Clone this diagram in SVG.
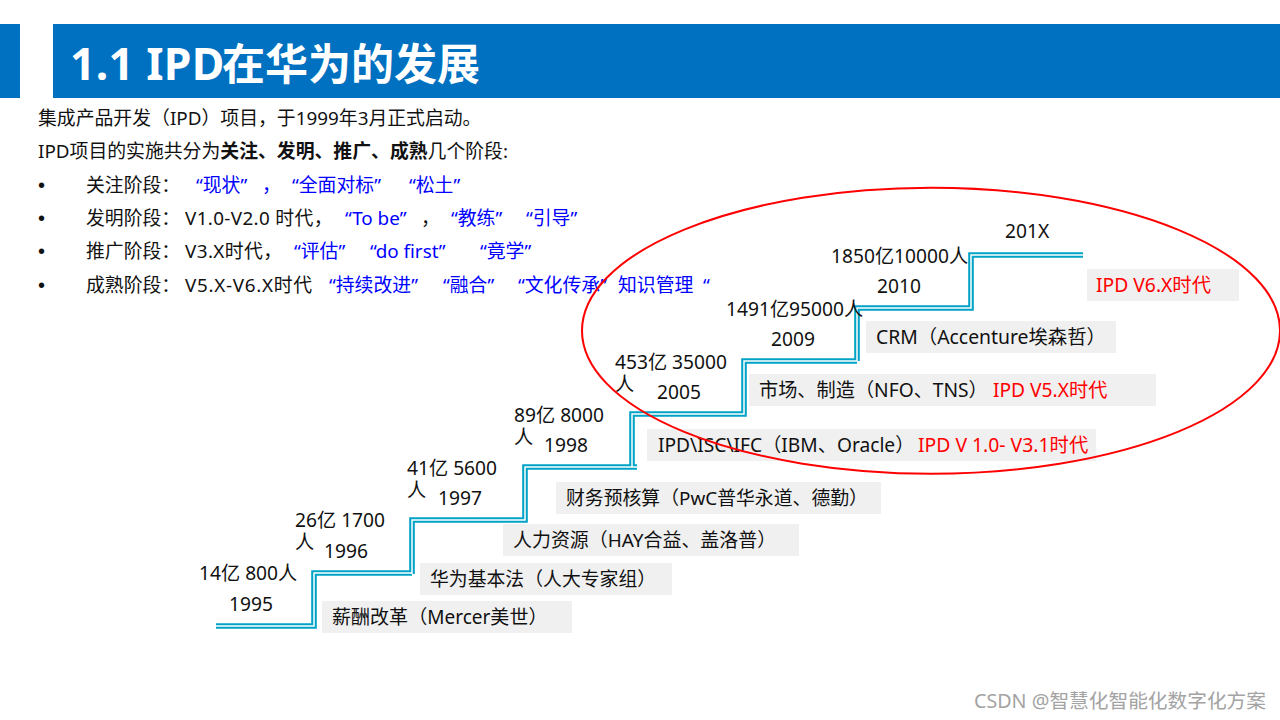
<svg xmlns="http://www.w3.org/2000/svg" width="1280" height="720" viewBox="0 0 1280 720">
<style>
text{font-family:"Noto Sans","Noto Sans CJK SC",sans-serif;font-size:18.85px;fill:#111}
.b{fill:#0000ff}.r{fill:#ff0000}.s{font-weight:700}
.n{font-size:19.2px}
.bul{font-family:"Liberation Sans",sans-serif;font-size:20px}
.box{fill:#f0f0f0}
.o{fill:none;stroke:#00a3c6;stroke-width:5.6}
.i{fill:none;stroke:#fff;stroke-width:1.5}
.title{font-size:43px;font-weight:700;fill:#fff}
.wm{font-size:19.7px;fill:#a3a3a3}
</style>
<rect width="1280" height="720" fill="#fff"/>
<g id="header">
<rect x="0" y="24" width="20" height="74" fill="#0070c0"/>
<rect x="53" y="24" width="1227" height="74" fill="#0070c0"/>
<text class="title" x="70" y="80"><tspan style="font-size:44.5px;letter-spacing:0.3px">1.1 IPD</tspan><tspan x="222">在华为的发展</tspan></text>
</g>
<g id="intro">
<text x="38" y="125">集成产品开发（IPD）项目，于1999年3月正式启动。</text>
<text x="38" y="158">IPD项目的实施共分为<tspan class="s">关注、发明、推广、成熟</tspan>几个阶段:</text>
<text class="bul" x="38" y="192">•</text><text x="86" y="192">关注阶段：</text>
<text class="b" x="196" y="192">“现状”</text><text class="b" x="262" y="192">，</text><text class="b" x="292" y="192">“全面对标”</text><text class="b" x="409" y="192">“松土”</text>
<text class="bul" x="38" y="225">•</text><text x="86" y="225">发明阶段：</text><text x="185" y="225" style="letter-spacing:0.35px">V1.0-V2.0 时代，</text>
<text class="b" x="345" y="225">“To be”</text><text x="421" y="225">，</text><text class="b" x="451" y="225">“教练”</text><text class="b" x="526" y="225">“引导”</text>
<text class="bul" x="38" y="258">•</text><text x="86" y="258">推广阶段：</text><text x="185" y="258" style="letter-spacing:0.4px">V3.X时代，</text>
<text class="b" x="294" y="258">“评估”</text><text class="b" x="370" y="258">“do first”</text><text class="b" x="480" y="258">“竟学”</text>
<text class="bul" x="38" y="292">•</text><text x="86" y="292">成熟阶段：</text><text x="185" y="292" style="letter-spacing:0.7px">V5.X-V6.X时代</text>
<text class="b" x="329" y="292">“持续改进”</text><text class="b" x="443" y="292">“融合”</text><text class="b" x="518" y="292">“文化传承”</text><text class="b" x="618" y="292">知识管理</text><text class="b" x="703" y="292">“</text>
</g>
<g id="connectors">
<path class="o" d="M216 626H314V573H412"/><path class="o" d="M412 574V520H525V467H637"/><path class="o" d="M632 467V414H744V361H857"/><path class="o" d="M857 361V308H971V255H1083"/>
<path class="i" d="M216 626H314V573H412"/><path class="i" d="M412 574V520H525V467H637"/><path class="i" d="M632 467V414H744V361H857"/><path class="i" d="M857 361V308H971V255H1083"/>
</g>
<g id="n1995"><rect class="box" x="322" y="601" width="250" height="32"/><text x="332" y="624" style="font-size:19.05px">薪酬改革（Mercer美世）</text><text class="n" x="199" y="580">14亿 800人</text><text class="n" x="229" y="611">1995</text></g>
<g id="n1996"><rect class="box" x="420" y="563" width="252" height="32"/><text x="430" y="586">华为基本法（人大专家组）</text><text class="n" x="295" y="527">26亿 1700</text><text class="n" x="295" y="549">人</text><text class="n" x="324" y="558">1996</text></g>
<g id="n1997"><rect class="box" x="503" y="524" width="296" height="32"/><text x="513" y="547" style="font-size:18.97px">人力资源（HAY合益、盖洛普）</text><text class="n" x="407" y="475">41亿 5600</text><text class="n" x="407" y="497">人</text><text class="n" x="438" y="505">1997</text></g>
<g id="n1998"><rect class="box" x="556" y="482" width="325" height="32"/><text x="566" y="505">财务预核算（PwC普华永道、德勤）</text><text class="n" x="514" y="422">89亿 8000</text><text class="n" x="514" y="444">人</text><text class="n" x="544" y="452">1998</text></g>
<g id="n2005"><rect class="box" x="647" y="429" width="449" height="32"/><text class="n" x="658" y="452">IPD\ISC\IFC（IBM、Oracle）</text><text class="r" x="918" y="452" style="font-size:19.35px">IPD V 1.0- V3.1时代</text><text class="n" x="615" y="369">453亿 35000</text><text class="n" x="615" y="391">人</text><text class="n" x="657" y="399">2005</text></g>
<g id="n2009"><rect class="box" x="749" y="374" width="407" height="32"/><text class="n" x="759" y="397">市场、制造（NFO、TNS）</text><text class="r n" x="993" y="397">IPD V5.X时代</text><text class="n" x="726" y="316">1491亿95000人</text><text class="n" x="771" y="346">2009</text></g>
<g id="n2010"><rect class="box" x="866" y="321" width="250" height="32"/><text x="876" y="344" style="font-size:19.38px">CRM（Accenture埃森哲）</text><text class="n" x="831" y="263">1850亿10000人</text><text class="n" x="877" y="293">2010</text></g>
<g id="n201x"><rect class="box" x="1087" y="269" width="152" height="32"/><text class="r" x="1096" y="292" style="font-size:19.3px">IPD V6.X时代</text><text class="n" x="1005" y="238">201X</text></g>
<ellipse id="highlight" cx="931" cy="330.7" rx="349" ry="143" fill="none" stroke="#ff0000" stroke-width="2"/>
<text class="wm" x="974" y="708">CSDN @智慧化智能化数字化方案</text>
</svg>
